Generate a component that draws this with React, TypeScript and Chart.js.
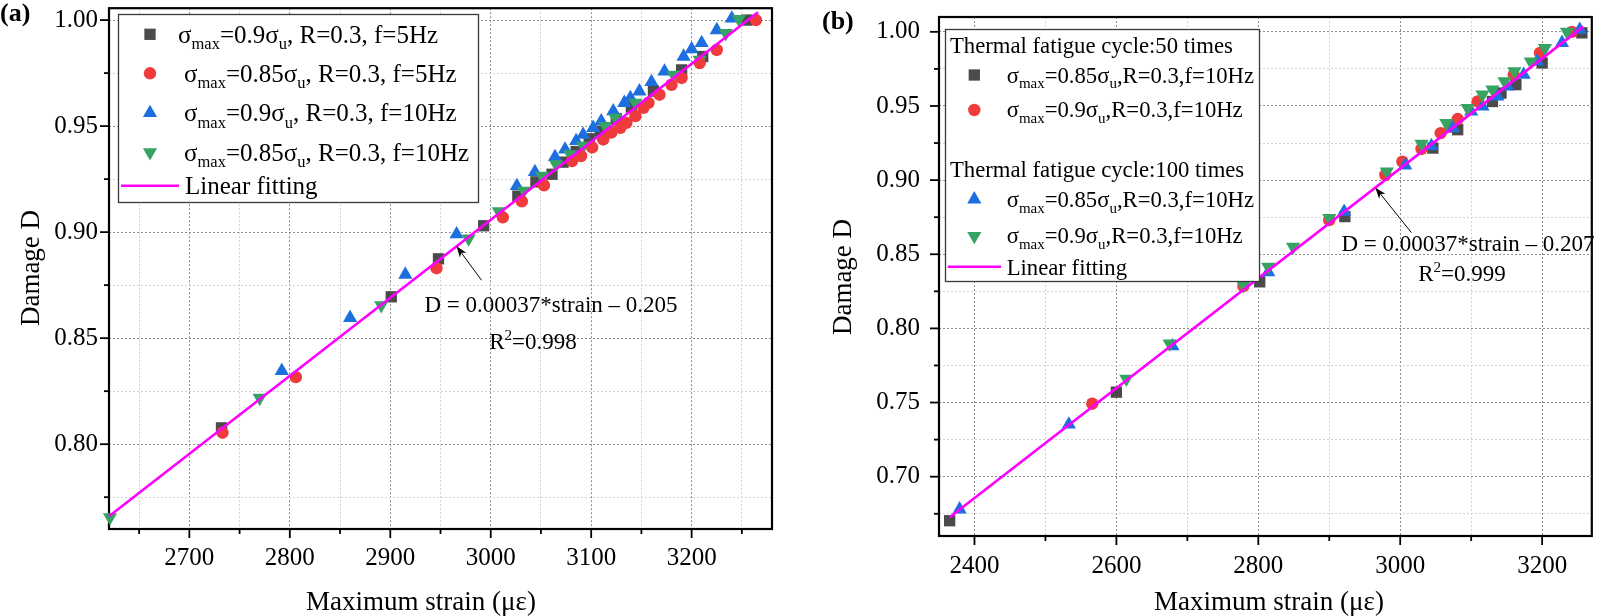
import React, { useEffect, useRef } from "react";
import { Chart, registerables } from "chart.js";

Chart.register(...registerables);

const SERIF = '"Liberation Serif", "Times New Roman", Times, serif';

const GREY = "#4b4b4b";
const RED = "#ef3b3b";
const BLUE = "#1d6fe0";
const GREEN = "#37a363";
const MAGENTA = "#ff00ff";

// ---------- Panel (a): damage vs maximum strain, four loading conditions ----------
const aStrainTicks = [2650, 2700, 2750, 2800, 2850, 2900, 2950, 3000, 3050, 3100, 3150, 3200, 3250];
const aDamageTicks = [0.775, 0.8, 0.825, 0.85, 0.875, 0.9, 0.925, 0.95, 0.975, 1.0];

const aLabels = [
  "σ_{max}=0.9σ_{u}, R=0.3, f=5Hz",
  "σ_{max}=0.85σ_{u}, R=0.3, f=5Hz",
  "σ_{max}=0.9σ_{u}, R=0.3, f=10Hz",
  "σ_{max}=0.85σ_{u}, R=0.3, f=10Hz",
];

const a90s5Strain = [2732, 2901, 2948, 2993, 3027, 3045, 3061, 3072, 3085, 3098, 3109, 3125, 3140, 3162, 3190, 3211, 3255];
const a90s5Damage = [0.8077, 0.8695, 0.8874, 0.903, 0.917, 0.9237, 0.9273, 0.933, 0.938, 0.944, 0.9476, 0.9535, 0.959, 0.9665, 0.9765, 0.9828, 1.0];

const a85s5Strain = [2733, 2806, 2946, 3012, 3031, 3053, 3081, 3090, 3101, 3112, 3120, 3129, 3135, 3144, 3152, 3157, 3168, 3180, 3190, 3208, 3225, 3264];
const a85s5Damage = [0.8054, 0.8316, 0.883, 0.907, 0.9145, 0.9221, 0.9335, 0.9359, 0.94, 0.9437, 0.9469, 0.9492, 0.9515, 0.9547, 0.9586, 0.961, 0.9648, 0.9695, 0.9727, 0.9797, 0.9859, 1.0];

const a90s10Strain = [2792, 2860, 2915, 2966, 3026, 3044, 3064, 3074, 3085, 3092, 3102, 3110, 3122, 3133, 3139, 3148, 3160, 3173, 3192, 3200, 3210, 3225, 3240];
const a90s10Damage = [0.8346, 0.8596, 0.88, 0.899, 0.9218, 0.9284, 0.9355, 0.939, 0.943, 0.946, 0.9492, 0.9523, 0.957, 0.961, 0.9633, 0.9664, 0.9708, 0.9758, 0.9828, 0.9863, 0.9892, 0.9953, 1.0008];

const a85s10Strain = [2621, 2770, 2891, 2978, 3008, 3033, 3051, 3065, 3079, 3092, 3114, 3124, 3144, 3182, 3208, 3234, 3247];
const a85s10Damage = [0.7655, 0.8218, 0.8655, 0.897, 0.9098, 0.9195, 0.9265, 0.932, 0.9367, 0.9407, 0.95, 0.9539, 0.961, 0.9742, 0.9812, 0.9938, 1.0005];

const aFitStrain = [2620, 3266];
const aFitDamage = [0.766, 1.0037];

// ---------- Panel (b): after thermal fatigue cycling ----------
const bStrainTicks = [2400, 2500, 2600, 2700, 2800, 2900, 3000, 3100, 3200];
const bDamageTicks = [0.675, 0.7, 0.725, 0.75, 0.775, 0.8, 0.825, 0.85, 0.875, 0.9, 0.925, 0.95, 0.975, 1.0];

const bGroupLabels = ["Thermal fatigue cycle:50 times", "Thermal fatigue cycle:100 times"];
const bLabels = [
  "σ_{max}=0.85σ_{u},R=0.3,f=10Hz",
  "σ_{max}=0.9σ_{u},R=0.3,f=10Hz",
  "σ_{max}=0.85σ_{u},R=0.3,f=10Hz",
  "σ_{max}=0.9σ_{u},R=0.3,f=10Hz",
];

const b50c85Strain = [2365, 2600, 2802, 2922, 3046, 3081, 3130, 3142, 3163, 3200, 3256];
const b50c85Damage = [0.6703, 0.757, 0.8314, 0.8754, 0.9216, 0.934, 0.953, 0.9587, 0.9644, 0.979, 0.9993];

const b50c90Strain = [2566, 2779, 2900, 2979, 3003, 3030, 3057, 3070, 3081, 3109, 3160, 3197, 3242];
const b50c90Damage = [0.7492, 0.8285, 0.873, 0.9035, 0.9125, 0.921, 0.9317, 0.936, 0.9412, 0.953, 0.9712, 0.9858, 1.0];

const b100c85Strain = [2379, 2533, 2679, 2814, 2921, 3007, 3044, 3074, 3100, 3116, 3137, 3151, 3174, 3193, 3228, 3253];
const b100c85Damage = [0.678, 0.7352, 0.788, 0.838, 0.8787, 0.91, 0.923, 0.935, 0.9463, 0.9497, 0.9565, 0.9632, 0.9711, 0.98, 0.9926, 1.0015];

const b100c90Strain = [2614, 2675, 2779, 2814, 2849, 2900, 2981, 3030, 3065, 3095, 3116, 3130, 3147, 3161, 3184, 3204, 3235];
const b100c90Damage = [0.766, 0.7898, 0.829, 0.8415, 0.855, 0.8743, 0.9058, 0.9245, 0.9385, 0.9486, 0.9576, 0.961, 0.9666, 0.9734, 0.98, 0.989, 1.0];

const bFitStrain = [2365, 3258];
const bFitDamage = [0.6726, 1.0035];

// ---------- helpers ----------
type Pt = { x: number; y: number };
const zip = (xs: number[], ys: number[]): Pt[] => xs.map((x, i) => ({ x, y: ys[i] }));

type Marker = { style: "rect" | "circle" | "triangle"; rot: number; radius: number; color: string };
const SQUARE: Marker = { style: "rect", rot: 0, radius: 8, color: GREY };
const CIRCLE: Marker = { style: "circle", rot: 0, radius: 6.2, color: RED };
const TRI_UP: Marker = { style: "triangle", rot: 0, radius: 8.2, color: BLUE };
const TRI_DOWN: Marker = { style: "triangle", rot: 180, radius: 8.2, color: GREEN };

function drawMarker(ctx: CanvasRenderingContext2D, m: Marker, x: number, y: number) {
  ctx.save();
  ctx.fillStyle = m.color;
  ctx.beginPath();
  if (m.style === "circle") {
    ctx.arc(x, y, m.radius, 0, Math.PI * 2);
  } else if (m.style === "rect") {
    const h = Math.SQRT1_2 * m.radius;
    ctx.rect(x - h, y - h, 2 * h, 2 * h);
  } else {
    let rad = (m.rot * Math.PI) / 180;
    for (let k = 0; k < 3; k++) {
      const px = x + Math.sin(rad) * m.radius;
      const py = y - Math.cos(rad) * m.radius;
      if (k === 0) ctx.moveTo(px, py);
      else ctx.lineTo(px, py);
      rad += (2 * Math.PI) / 3;
    }
    ctx.closePath();
  }
  ctx.fill();
  ctx.restore();
}

// Text with _{sub} and ^{sup} runs
function drawRich(
  ctx: CanvasRenderingContext2D,
  text: string,
  x: number,
  y: number,
  size: number,
  align: "left" | "center" = "left"
) {
  const tokens: { t: string; k: "n" | "sub" | "sup" }[] = [];
  const re = /([_^])\{([^}]*)\}/g;
  let last = 0;
  let m: RegExpExecArray | null;
  while ((m = re.exec(text))) {
    if (m.index > last) tokens.push({ t: text.slice(last, m.index), k: "n" });
    tokens.push({ t: m[2], k: m[1] === "_" ? "sub" : "sup" });
    last = re.lastIndex;
  }
  if (last < text.length) tokens.push({ t: text.slice(last), k: "n" });
  const small = size * 0.66;
  const fontOf = (k: string) => `${k === "n" ? size : small}px ${SERIF}`;
  let total = 0;
  for (const tk of tokens) {
    ctx.font = fontOf(tk.k);
    total += ctx.measureText(tk.t).width;
  }
  let cx = align === "center" ? x - total / 2 : x;
  ctx.save();
  ctx.fillStyle = "#000";
  ctx.textBaseline = "alphabetic";
  ctx.textAlign = "left";
  for (const tk of tokens) {
    ctx.font = fontOf(tk.k);
    const dy = tk.k === "sub" ? size * 0.25 : tk.k === "sup" ? -size * 0.38 : 0;
    ctx.fillText(tk.t, cx, y + dy);
    cx += ctx.measureText(tk.t).width;
  }
  ctx.restore();
}

type LegendItem =
  | { kind: "marker"; marker: Marker; x: number; y: number; tx: number; ty: number; label: string }
  | { kind: "header"; tx: number; ty: number; label: string }
  | { kind: "line"; x1: number; x2: number; y: number; tx: number; ty: number; label: string };

type Series = { label: string; strain: number[]; damage: number[]; marker: Marker; order: number };

type PanelCfg = {
  xMin: number;
  xMax: number;
  yMin: number;
  yMax: number;
  xTicks: number[];
  yTicks: number[];
  xMajor: number;
  yMajor: number;
  padding: { left: number; right: number; top: number; bottom: number };
  yAxisWidth: number;
  xAxisHeight: number;
  yLabelPad: number;
  xLabelPad: number;
  series: Series[];
  fitStrain: number[];
  fitDamage: number[];
  letter: string;
  letterPos: [number, number];
  xTitlePos: [number, number];
  yTitlePos: [number, number];
  legendBox: [number, number, number, number];
  legendFont: number;
  legend: LegendItem[];
  equation: string;
  rsq: string;
  equationPos: [number, number];
  rsqPos: [number, number];
  arrowStrain: number;
  arrowTail: [number, number];
};

const isMultiple = (v: number, step: number) => Math.abs(v / step - Math.round(v / step)) < 1e-6;

function makeDecor(cfg: PanelCfg) {
  return {
    id: "decor",
    beforeDatasetsDraw(chart: any) {
      const { ctx, chartArea: a, scales } = chart;
      ctx.save();
      ctx.strokeStyle = "#000";
      ctx.lineWidth = 1.8;
      for (const t of scales.x.ticks) {
        const px = scales.x.getPixelForValue(t.value);
        const len = isMultiple(t.value, cfg.xMajor) ? 9 : 5;
        ctx.beginPath();
        ctx.moveTo(px, a.bottom);
        ctx.lineTo(px, a.bottom + len);
        ctx.stroke();
      }
      for (const t of scales.y.ticks) {
        const py = scales.y.getPixelForValue(t.value);
        const len = isMultiple(t.value, cfg.yMajor) ? 9 : 5;
        ctx.beginPath();
        ctx.moveTo(a.left, py);
        ctx.lineTo(a.left - len, py);
        ctx.stroke();
      }
      ctx.lineWidth = 2.2;
      ctx.strokeRect(a.left, a.top, a.right - a.left, a.bottom - a.top);
      ctx.restore();
    },
    afterDraw(chart: any) {
      const { ctx, scales } = chart;
      ctx.save();

      // panel letter
      ctx.fillStyle = "#000";
      ctx.font = `bold 26px ${SERIF}`;
      ctx.textAlign = "left";
      ctx.textBaseline = "alphabetic";
      ctx.fillText(cfg.letter, cfg.letterPos[0], cfg.letterPos[1]);

      // axis titles
      ctx.font = `27px ${SERIF}`;
      ctx.textAlign = "center";
      ctx.fillText("Maximum strain (με)", cfg.xTitlePos[0], cfg.xTitlePos[1]);
      ctx.save();
      ctx.translate(cfg.yTitlePos[0], cfg.yTitlePos[1]);
      ctx.rotate(-Math.PI / 2);
      ctx.fillText("Damage D", 0, 0);
      ctx.restore();

      // legend
      const [l, t, r, b] = cfg.legendBox;
      ctx.fillStyle = "#fff";
      ctx.fillRect(l, t, r - l, b - t);
      ctx.strokeStyle = "#3a3a3a";
      ctx.lineWidth = 1.3;
      ctx.strokeRect(l, t, r - l, b - t);
      for (const it of cfg.legend) {
        if (it.kind === "marker") {
          drawMarker(ctx, it.marker, it.x, it.y);
        } else if (it.kind === "line") {
          ctx.strokeStyle = MAGENTA;
          ctx.lineWidth = 2.6;
          ctx.beginPath();
          ctx.moveTo(it.x1, it.y);
          ctx.lineTo(it.x2, it.y);
          ctx.stroke();
        }
        drawRich(ctx, it.label, it.tx, it.ty, cfg.legendFont);
      }

      // fitted-line annotation with arrow
      const f0 = cfg.fitStrain[0];
      const f1 = cfg.fitStrain[1];
      const d0 = cfg.fitDamage[0];
      const d1 = cfg.fitDamage[1];
      const headD = d0 + ((cfg.arrowStrain - f0) / (f1 - f0)) * (d1 - d0);
      const hx = scales.x.getPixelForValue(cfg.arrowStrain);
      const hy = scales.y.getPixelForValue(headD);
      const tx = hx + cfg.arrowTail[0];
      const ty = hy + cfg.arrowTail[1];
      const ang = Math.atan2(hy - ty, hx - tx);
      ctx.strokeStyle = "#000";
      ctx.fillStyle = "#000";
      ctx.lineWidth = 1;
      ctx.beginPath();
      ctx.moveTo(tx, ty);
      ctx.lineTo(hx - Math.cos(ang) * 8, hy - Math.sin(ang) * 8);
      ctx.stroke();
      const hl = 11;
      const hw = 4;
      ctx.beginPath();
      ctx.moveTo(hx, hy);
      ctx.lineTo(hx - Math.cos(ang) * hl - Math.sin(ang) * hw, hy - Math.sin(ang) * hl + Math.cos(ang) * hw);
      ctx.lineTo(hx - Math.cos(ang) * (hl - 3), hy - Math.sin(ang) * (hl - 3));
      ctx.lineTo(hx - Math.cos(ang) * hl + Math.sin(ang) * hw, hy - Math.sin(ang) * hl - Math.cos(ang) * hw);
      ctx.closePath();
      ctx.fill();
      drawRich(ctx, cfg.equation, cfg.equationPos[0], cfg.equationPos[1], 23, "center");
      drawRich(ctx, cfg.rsq, cfg.rsqPos[0], cfg.rsqPos[1], 23, "center");

      ctx.restore();
    },
  };
}

function buildChart(canvas: HTMLCanvasElement, cfg: PanelCfg) {
  const datasets: any[] = [
    {
      label: "Linear fitting",
      data: zip(cfg.fitStrain, cfg.fitDamage),
      showLine: true,
      borderColor: MAGENTA,
      borderWidth: 2.6,
      pointRadius: 0,
      order: 0,
      clip: false,
    },
    ...cfg.series.map((s) => ({
      label: s.label,
      data: zip(s.strain, s.damage),
      showLine: false,
      pointStyle: s.marker.style,
      pointRotation: s.marker.rot,
      pointRadius: s.marker.radius,
      pointHoverRadius: s.marker.radius,
      pointBackgroundColor: s.marker.color,
      pointBorderColor: s.marker.color,
      pointBorderWidth: 0,
      backgroundColor: s.marker.color,
      borderColor: s.marker.color,
      order: s.order,
      clip: false,
    })),
  ];

  const gridColor = (step: number) => (c: any) =>
    c.tick && isMultiple(c.tick.value, step) ? "#8c8c8c" : "#d2d2d2";

  return new Chart(canvas, {
    type: "scatter",
    data: { datasets },
    plugins: [makeDecor(cfg)],
    options: {
      responsive: false,
      animation: false,
      devicePixelRatio: 1,
      events: [],
      layout: { padding: cfg.padding },
      plugins: { legend: { display: false }, tooltip: { enabled: false } },
      scales: {
        x: {
          type: "linear",
          min: cfg.xMin,
          max: cfg.xMax,
          afterBuildTicks: (s: any) => {
            s.ticks = cfg.xTicks.map((v) => ({ value: v }));
          },
          afterFit: (s: any) => {
            s.height = cfg.xAxisHeight;
            s.paddingLeft = 0;
            s.paddingRight = 0;
            s.paddingTop = 0;
            s.paddingBottom = 0;
          },
          grid: { color: gridColor(cfg.xMajor), lineWidth: 1, drawTicks: false },
          border: { display: false, dash: [2, 2] },
          ticks: {
            autoSkip: false,
            maxRotation: 0,
            padding: cfg.xLabelPad,
            color: "#000",
            font: { family: SERIF, size: 25 },
            callback: (v: any) => (isMultiple(Number(v), cfg.xMajor) ? String(v) : ""),
          },
        },
        y: {
          type: "linear",
          min: cfg.yMin,
          max: cfg.yMax,
          afterBuildTicks: (s: any) => {
            s.ticks = cfg.yTicks.map((v) => ({ value: v }));
          },
          afterFit: (s: any) => {
            s.width = cfg.yAxisWidth;
            s.paddingLeft = 0;
            s.paddingRight = 0;
            s.paddingTop = 0;
            s.paddingBottom = 0;
          },
          grid: { color: gridColor(cfg.yMajor), lineWidth: 1, drawTicks: false },
          border: { display: false, dash: [2, 2] },
          ticks: {
            autoSkip: false,
            padding: cfg.yLabelPad,
            color: "#000",
            font: { family: SERIF, size: 25 },
            callback: (v: any) => (isMultiple(Number(v), cfg.yMajor) ? Number(v).toFixed(2) : ""),
          },
        },
      },
    } as any,
  });
}

const panelA: PanelCfg = {
  xMin: 2620,
  xMax: 3280,
  yMin: 0.76,
  yMax: 1.0056,
  xTicks: aStrainTicks,
  yTicks: aDamageTicks,
  xMajor: 100,
  yMajor: 0.05,
  padding: { left: 0, right: 28, top: 8, bottom: 0 },
  yAxisWidth: 109,
  xAxisHeight: 87,
  yLabelPad: 11,
  xLabelPad: 14,
  series: [
    { label: aLabels[0], strain: a90s5Strain, damage: a90s5Damage, marker: SQUARE, order: 4 },
    { label: aLabels[1], strain: a85s5Strain, damage: a85s5Damage, marker: CIRCLE, order: 1 },
    { label: aLabels[2], strain: a90s10Strain, damage: a90s10Damage, marker: TRI_UP, order: 3 },
    { label: aLabels[3], strain: a85s10Strain, damage: a85s10Damage, marker: TRI_DOWN, order: 2 },
  ],
  fitStrain: aFitStrain,
  fitDamage: aFitDamage,
  letter: "(a)",
  letterPos: [0, 21],
  xTitlePos: [421, 610],
  yTitlePos: [39, 268],
  legendBox: [118.5, 14.5, 478.5, 202.5],
  legendFont: 25,
  legend: [
    { kind: "marker", marker: SQUARE, x: 150, y: 34.3, tx: 178, ty: 42.6, label: aLabels[0] },
    { kind: "marker", marker: CIRCLE, x: 150, y: 73.3, tx: 184, ty: 81.6, label: aLabels[1] },
    { kind: "marker", marker: TRI_UP, x: 150, y: 113, tx: 184, ty: 121.3, label: aLabels[2] },
    { kind: "marker", marker: TRI_DOWN, x: 150, y: 152.3, tx: 184, ty: 160.6, label: aLabels[3] },
    { kind: "line", x1: 121, x2: 179, y: 185.7, tx: 185, ty: 194, label: "Linear fitting" },
  ],
  equation: "D = 0.00037*strain – 0.205",
  rsq: "R^{2}=0.998",
  equationPos: [551, 312],
  rsqPos: [533, 349],
  arrowStrain: 2966,
  arrowTail: [25, 34],
};

const panelB: PanelCfg = {
  xMin: 2350,
  xMax: 3270,
  yMin: 0.66,
  yMax: 1.01,
  xTicks: bStrainTicks,
  yTicks: bDamageTicks,
  xMajor: 200,
  yMajor: 0.05,
  padding: { left: 0, right: 1, top: 17, bottom: 0 },
  yAxisWidth: 139,
  xAxisHeight: 80,
  yLabelPad: 19,
  xLabelPad: 15,
  series: [
    { label: bLabels[0], strain: b50c85Strain, damage: b50c85Damage, marker: SQUARE, order: 4 },
    { label: bLabels[1], strain: b50c90Strain, damage: b50c90Damage, marker: CIRCLE, order: 3 },
    { label: bLabels[2], strain: b100c85Strain, damage: b100c85Damage, marker: TRI_UP, order: 2 },
    { label: bLabels[3], strain: b100c90Strain, damage: b100c90Damage, marker: TRI_DOWN, order: 1 },
  ],
  fitStrain: bFitStrain,
  fitDamage: bFitDamage,
  letter: "(b)",
  letterPos: [22, 29],
  xTitlePos: [469, 610],
  yTitlePos: [51, 277],
  legendBox: [145.5, 29.5, 459.5, 281.5],
  legendFont: 22.7,
  legend: [
    { kind: "header", tx: 150, ty: 52.7, label: bGroupLabels[0] },
    { kind: "marker", marker: SQUARE, x: 174.3, y: 75, tx: 206.7, ty: 82.7, label: bLabels[0] },
    { kind: "marker", marker: CIRCLE, x: 174.3, y: 110, tx: 206.7, ty: 117.3, label: bLabels[1] },
    { kind: "header", tx: 150, ty: 176.7, label: bGroupLabels[1] },
    { kind: "marker", marker: TRI_UP, x: 174.3, y: 199.3, tx: 206.7, ty: 207.3, label: bLabels[2] },
    { kind: "marker", marker: TRI_DOWN, x: 174.3, y: 236, tx: 206.7, ty: 243.3, label: bLabels[3] },
    { kind: "line", x1: 147.7, x2: 201, y: 266.7, tx: 206.7, ty: 275, label: "Linear fitting" },
  ],
  equation: "D = 0.00037*strain – 0.207",
  rsq: "R^{2}=0.999",
  equationPos: [668, 251],
  rsqPos: [662, 281],
  arrowStrain: 2965,
  arrowTail: [36, 45],
};

function Panel({ cfg, left }: { cfg: PanelCfg; left: number }) {
  const ref = useRef<HTMLCanvasElement>(null);
  useEffect(() => {
    const chart = buildChart(ref.current as HTMLCanvasElement, cfg);
    return () => chart.destroy();
  }, [cfg]);
  return (
    <canvas
      ref={ref}
      width={800}
      height={616}
      style={{ position: "absolute", left, top: 0, width: 800, height: 616 }}
    />
  );
}

export default function App() {
  return (
    <div
      style={{
        position: "absolute",
        left: 0,
        top: 0,
        width: 1600,
        height: 616,
        background: "#fff",
        overflow: "hidden",
      }}
    >
      <Panel cfg={panelA} left={0} />
      <Panel cfg={panelB} left={800} />
    </div>
  );
}
